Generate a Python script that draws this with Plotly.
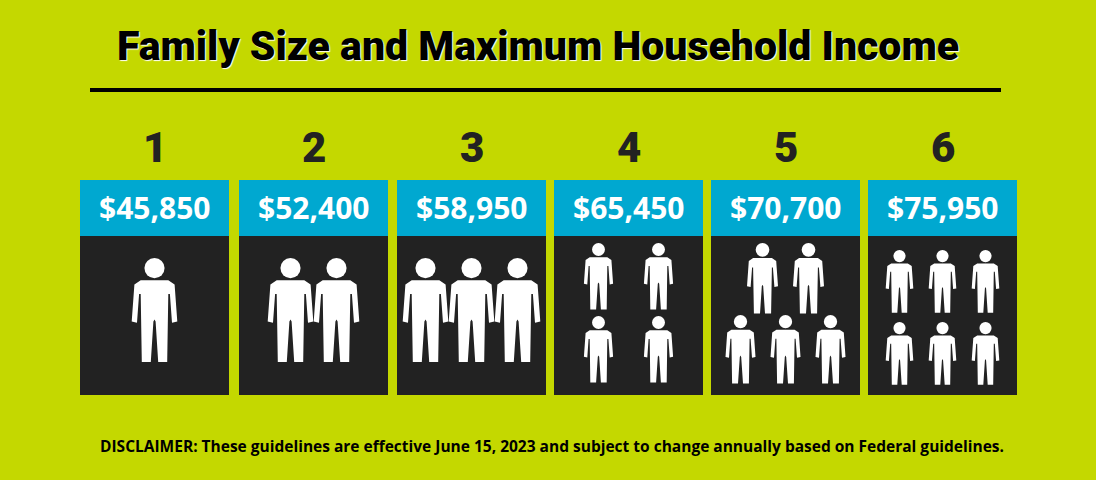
import plotly.graph_objects as go

family_sizes = ["1", "2", "3", "4", "5", "6"]
incomes = ["$45,850", "$52,400", "$58,950", "$65,450", "$70,700", "$75,950"]
people_counts = [1, 2, 3, 4, 5, 6]

W, H = 1096, 480
BG = "#C4D800"
BLUE = "#00A8D0"
DARK = "#222222"

box_left = [80, 239, 397, 554, 711, 868]
box_w = 149

fig = go.Figure()
shapes = []
ann = []

def person(cx, top, h):
    r = [(0, 0.21), (0.13, 0.21), (0.19, 0.25), (0.215, 0.60), (0.165, 0.61),
         (0.145, 0.34), (0.13, 0.34), (0.12, 0.98), (0.035, 0.98), (0.01, 0.60), (0, 0.58)]
    pts = r + [(-x, y) for x, y in reversed(r)]
    path = "M " + " L ".join(f"{cx + x*h:.1f},{top + y*h:.1f}" for x, y in pts) + " Z"
    shapes.append(dict(type="path", path=path, fillcolor="white", line=dict(width=0)))
    rr = 0.095 * h
    cy = top + 0.095 * h
    shapes.append(dict(type="circle", x0=cx-rr, x1=cx+rr, y0=cy-rr, y1=cy+rr,
                       fillcolor="white", line=dict(width=0)))

def layout_people(n, c):
    if n == 1: return [(c, 258, 106)]
    if n == 2: return [(c-23, 258, 106), (c+23, 258, 106)]
    if n == 3: return [(c-46, 258, 106), (c, 258, 106), (c+46, 258, 106)]
    if n == 4: return [(c+dx, t, 68) for t in (243, 316) for dx in (-30, 30)]
    if n == 5: return [(c+dx, 243, 72) for dx in (-23, 23)] + [(c+dx, 315, 70) for dx in (-45, 0, 45)]
    return [(c+dx, t, 64) for t in (250, 322) for dx in (-43, 0, 43)]

for i, (lab, inc, n) in enumerate(zip(family_sizes, incomes, people_counts)):
    x0 = box_left[i]; x1 = x0 + box_w; c = (x0 + x1) / 2
    shapes.append(dict(type="rect", x0=x0, x1=x1, y0=180, y1=236, fillcolor=BLUE, line=dict(width=0)))
    shapes.append(dict(type="rect", x0=x0, x1=x1, y0=236, y1=395, fillcolor=DARK, line=dict(width=0)))
    ann.append(dict(x=c, y=147, text=lab, showarrow=False,
                    font=dict(family="Roboto", size=42, weight=900, color=DARK)))
    ann.append(dict(x=c, y=207, text=inc, showarrow=False,
                    font=dict(family="Open Sans", size=30, weight=700, color="white")))
    for px, pt, ph in layout_people(n, c):
        person(px, pt, ph)

shapes.append(dict(type="line", x0=90, x1=1001, y0=90, y1=90, line=dict(color="black", width=4)))
ann.append(dict(x=538, y=46, text="Family Size and Maximum Household Income", showarrow=False,
                font=dict(family="Roboto", size=41, weight=900, color="black", shadow="1px 1px 1px white")))
ann.append(dict(x=552, y=446, text="DISCLAIMER: These guidelines are effective June 15, 2023 and subject to change annually based on Federal guidelines.",
                showarrow=False, font=dict(family="Open Sans", size=15.5, weight=700, color="black")))

fig.update_layout(width=W, height=H, margin=dict(l=0, r=0, t=0, b=0),
                  paper_bgcolor=BG, plot_bgcolor=BG, shapes=shapes, annotations=ann,
                  xaxis=dict(range=[0, W], visible=False, fixedrange=True),
                  yaxis=dict(range=[H, 0], visible=False, fixedrange=True),
                  showlegend=False)
fig.write_html("out.html", config={"displayModeBar": False})

with open("out.html", encoding="utf-8") as f:
    html = f.read()
html = html.replace("<body>", f"<body style=\"margin:0;background:{BG};\">", 1)
with open("out.html", "w", encoding="utf-8") as f:
    f.write(html)
